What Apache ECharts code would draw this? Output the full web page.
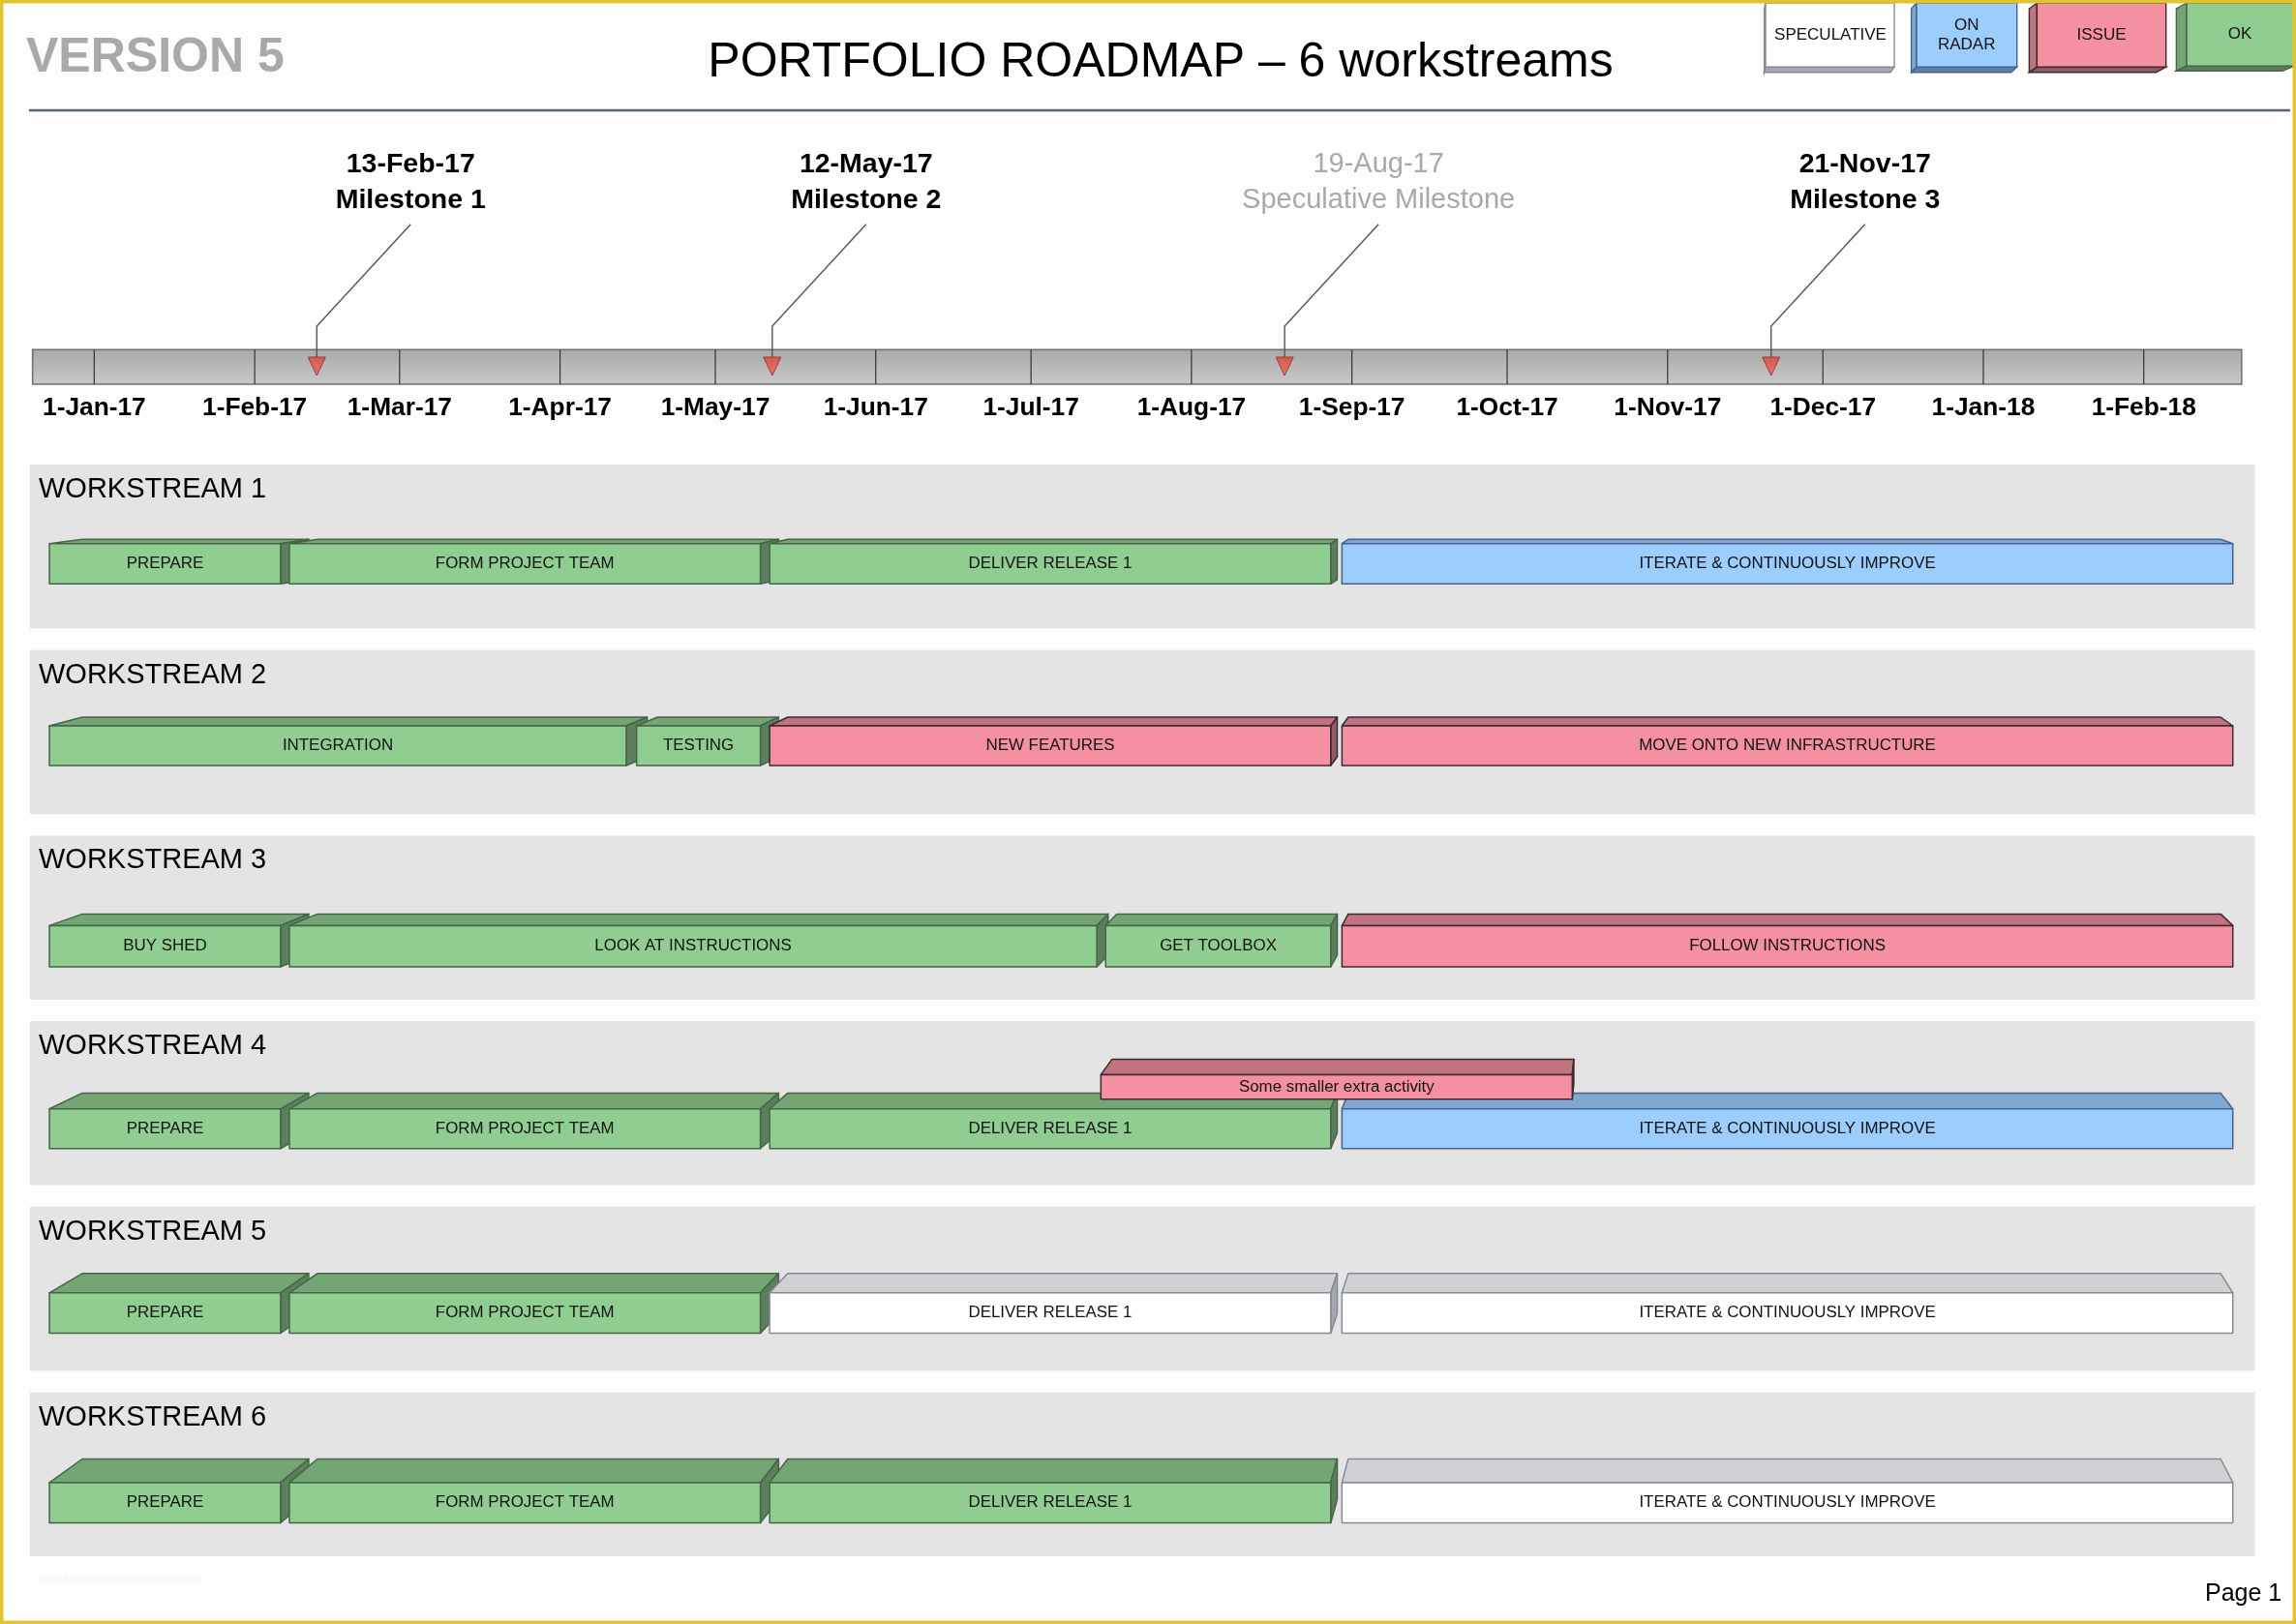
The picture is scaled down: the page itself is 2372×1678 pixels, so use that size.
<!DOCTYPE html>
<html>
<head>
<meta charset="utf-8">
<style>
  html, body { margin: 0; padding: 0; background: #fdfdfd; }
  #main { width: 2372px; height: 1678px; }
</style>
<script src="https://cdn.jsdelivr.net/npm/echarts@6/dist/echarts.min.js"></script>
</head>
<body>
<div id="main"></div>
<script>
var workstreams = ['WORKSTREAM 1', 'WORKSTREAM 2', 'WORKSTREAM 3', 'WORKSTREAM 4', 'WORKSTREAM 5', 'WORKSTREAM 6'];

var monthDates = ['2017-01-01', '2017-02-01', '2017-03-01', '2017-04-01', '2017-05-01', '2017-06-01', '2017-07-01',
  '2017-08-01', '2017-09-01', '2017-10-01', '2017-11-01', '2017-12-01', '2018-01-01', '2018-02-01'];
var monthLabels = ['1-Jan-17', '1-Feb-17', '1-Mar-17', '1-Apr-17', '1-May-17', '1-Jun-17', '1-Jul-17',
  '1-Aug-17', '1-Sep-17', '1-Oct-17', '1-Nov-17', '1-Dec-17', '1-Jan-18', '1-Feb-18'];

var milestoneDates = ['2017-02-13', '2017-05-12', '2017-08-19', '2017-11-21'];
var milestoneDateLabels = ['13-Feb-17', '12-May-17', '19-Aug-17', '21-Nov-17'];
var milestoneNames = ['Milestone 1', 'Milestone 2', 'Speculative Milestone', 'Milestone 3'];
var milestoneSpeculative = [false, false, true, false];

// shared bar dates
var D_START = '2016-12-23 08:00', D_PREP_END = '2017-02-06 00:00', D_FORM = '2017-02-07 17:00',
  D_FORM_END = '2017-05-09 17:00', D_REL = '2017-05-11 12:00', D_REL_END = '2017-08-27 22:00',
  D_ITER = '2017-08-30 02:00', D_ITER_END = '2018-02-18 05:00';

var barRows = [
  0, 0, 0, 0,
  1, 1, 1, 1,
  2, 2, 2, 2,
  3, 3, 3, 3,
  4, 4, 4, 4,
  5, 5, 5, 5,
  3
];
var barStarts = [
  D_START, D_FORM, D_REL, D_ITER,
  D_START, '2017-04-15 19:00', D_REL, D_ITER,
  D_START, D_FORM, '2017-07-15 10:00', D_ITER,
  D_START, D_FORM, D_REL, D_ITER,
  D_START, D_FORM, D_REL, D_ITER,
  D_START, D_FORM, D_REL, D_ITER,
  '2017-07-14 12:00'
];
var barEnds = [
  D_PREP_END, D_FORM_END, D_REL_END, D_ITER_END,
  '2017-04-13 19:00', D_FORM_END, D_REL_END, D_ITER_END,
  D_PREP_END, '2017-07-13 17:00', D_REL_END, D_ITER_END,
  D_PREP_END, D_FORM_END, D_REL_END, D_ITER_END,
  D_PREP_END, D_FORM_END, D_REL_END, D_ITER_END,
  D_PREP_END, D_FORM_END, D_REL_END, D_ITER_END,
  '2017-10-13 14:00'
];
var barLabels = [
  'PREPARE', 'FORM PROJECT TEAM', 'DELIVER RELEASE 1', 'ITERATE & CONTINUOUSLY IMPROVE',
  'INTEGRATION', 'TESTING', 'NEW FEATURES', 'MOVE ONTO NEW INFRASTRUCTURE',
  'BUY SHED', 'LOOK AT INSTRUCTIONS', 'GET TOOLBOX', 'FOLLOW INSTRUCTIONS',
  'PREPARE', 'FORM PROJECT TEAM', 'DELIVER RELEASE 1', 'ITERATE & CONTINUOUSLY IMPROVE',
  'PREPARE', 'FORM PROJECT TEAM', 'DELIVER RELEASE 1', 'ITERATE & CONTINUOUSLY IMPROVE',
  'PREPARE', 'FORM PROJECT TEAM', 'DELIVER RELEASE 1', 'ITERATE & CONTINUOUSLY IMPROVE',
  'Some smaller extra activity'
];
var barStatus = [
  'ok', 'ok', 'ok', 'radar',
  'ok', 'ok', 'issue', 'issue',
  'ok', 'ok', 'ok', 'issue',
  'ok', 'ok', 'ok', 'radar',
  'ok', 'ok', 'spec', 'spec',
  'ok', 'ok', 'ok', 'spec',
  'issue'
];

var legendLabels = ['SPECULATIVE', 'ON\nRADAR', 'ISSUE', 'OK'];
var legendStatus = ['spec', 'radar', 'issue', 'ok'];

// ---- styles and layout, px
var FONT = '"Liberation Sans", Arial, sans-serif';
var colors = {
  ok: { front: '#8fce90', top: '#74a674', side: '#5b7f5c', line: '#47644a' },
  radar: { front: '#9bcefc', top: '#7fa8d2', side: '#5f80a6', line: '#47618a' },
  issue: { front: '#f590a1', top: '#c27380', side: '#8e5c66', line: '#3c2a30' },
  spec: { front: '#ffffff', top: '#d1d1d3', side: '#a4a7ad', line: '#868a96' }
};
// offset from panel top to the front face of the bars, and height of the top face
var rowBars = [
  { top: 81.7, bottom: 123.3, depth: 4.4 },
  { top: 78.3, bottom: 119.3, depth: 9 },
  { top: 93, bottom: 135.6, depth: 12 },
  { top: 90.7, bottom: 131.7, depth: 16.4 },
  { top: 89, bottom: 130.6, depth: 20 },
  { top: 93.4, bottom: 135, depth: 24.4 }
];
var extraBar = { top: 55.3, bottom: 80.7, depth: 16 };
var ROW_PITCH = 191.7, PANEL_H = 169.5;
var VANISH_X = 1700, VANISH_K = 0.0206;

var X_MIN = '2016-12-13 19:00', X_MAX = '2018-03-02 10:00';
var BAND_START = '2016-12-20 02:00', BAND_END = '2018-02-19 22:00';
var PANEL_START = '2016-12-19 14:00', PANEL_END = '2018-02-22 12:00';

function ts(s) { return +new Date(s.replace(' ', 'T')); }

var myChart = echarts.init(document.getElementById('main'));

function renderPanel(params, api) {
  var left = api.coord([api.value(0), api.value(2)]);
  var right = api.coord([api.value(1), api.value(2)]);
  var top = left[1] - api.size([0, 1])[1] / 2;
  return {
    type: 'group',
    children: [
      { type: 'rect', shape: { x: left[0], y: top, width: right[0] - left[0], height: PANEL_H }, style: { fill: '#e4e4e4' } },
      { type: 'text', style: { x: left[0] + 9, y: top + 26, text: workstreams[params.dataIndex], font: '29px ' + FONT, fill: '#000', verticalAlign: 'middle' } }
    ]
  };
}

function renderBar(params, api) {
  var i = params.dataIndex;
  var row = api.value(2);
  var x0 = api.coord([api.value(0), row])[0];
  var p1 = api.coord([api.value(1), row]);
  var x1 = p1[0];
  var panelTop = p1[1] - api.size([0, 1])[1] / 2;
  var small = i === barRows.length - 1;
  var g = small ? extraBar : rowBars[row];
  var c = colors[barStatus[i]];
  var top = panelTop + g.top, bottom = panelTop + g.bottom, d = g.depth;
  var dx0 = (VANISH_X - x0) * VANISH_K, dx1 = (VANISH_X - x1) * VANISH_K;
  var stroke = { stroke: c.line, lineWidth: 1.5, lineJoin: 'round' };
  var children = [
    { type: 'polygon', shape: { points: [[x0, top], [x1, top], [x1 + dx1, top - d], [x0 + dx0, top - d]] }, style: Object.assign({ fill: c.top }, stroke) }
  ];
  // the side face is only visible left of the vanishing point
  if (dx1 > 0) {
    children.push({ type: 'polygon', shape: { points: [[x1, top], [x1 + dx1, top - d], [x1 + dx1, bottom - d], [x1, bottom]] }, style: Object.assign({ fill: c.side }, stroke) });
  }
  children.push({ type: 'rect', shape: { x: x0, y: top, width: x1 - x0, height: bottom - top }, style: Object.assign({ fill: c.front }, stroke) });
  children.push({ type: 'text', style: { x: (x0 + x1) / 2, y: (top + bottom) / 2, text: barLabels[i], font: '16.9px ' + FONT, fill: '#111', align: 'center', verticalAlign: 'middle' } });
  return { type: 'group', children: children };
}

function renderBand(params, api) {
  var a = api.coord([api.value(0), 0]);
  var b = api.coord([api.value(1), 0]);
  var h = api.size([0, 1])[1];
  return {
    type: 'rect',
    shape: { x: a[0], y: a[1] - h / 2, width: b[0] - a[0], height: h },
    style: {
      fill: new echarts.graphic.LinearGradient(0, 0, 0, 1, [{ offset: 0, color: '#a9a9a9' }, { offset: 1, color: '#c9c9c9' }]),
      stroke: '#6e6e6e', lineWidth: 1.5
    }
  };
}

function renderMonth(params, api) {
  var a = api.coord([api.value(0), 0]);
  var h = api.size([0, 1])[1];
  return {
    type: 'group',
    children: [
      { type: 'line', shape: { x1: a[0], y1: a[1] - h / 2, x2: a[0], y2: a[1] + h / 2 }, style: { stroke: '#333', lineWidth: 1.2 } },
      { type: 'text', style: { x: a[0], y: a[1] + h / 2 + 25, text: monthLabels[params.dataIndex], font: 'bold 26.3px ' + FONT, fill: '#000', align: 'center', verticalAlign: 'middle' } }
    ]
  };
}

function renderMilestone(params, api) {
  var i = params.dataIndex;
  var a = api.coord([api.value(0), 0]);
  var x = a[0], top = a[1] - api.size([0, 1])[1] / 2;
  var spec = milestoneSpeculative[i];
  return {
    type: 'group',
    children: [
      { type: 'polyline', shape: { points: [[x + 97, top - 129.6], [x, top - 24.3], [x, top + 7.7]] }, style: { stroke: '#555', lineWidth: 1.4, fill: 'none' } },
      {
        type: 'polygon', shape: { points: [[x - 9, top + 7.7], [x + 9, top + 7.7], [x, top + 26.7]] },
        style: {
          fill: new echarts.graphic.LinearGradient(0, 0, 0, 1, [{ offset: 0, color: '#d9574c' }, { offset: 1, color: '#e9796d' }]),
          stroke: '#8c3f38', lineWidth: 1
        }
      },
      {
        type: 'text',
        style: {
          x: x + 97, y: top - 172.7,
          text: milestoneDateLabels[i] + '\n' + milestoneNames[i],
          font: spec ? '29px ' + FONT : 'bold 28.5px ' + FONT, lineHeight: 36.7,
          fill: spec ? '#a9a9a9' : '#000', align: 'center', verticalAlign: 'middle'
        }
      }
    ]
  };
}

// legend boxes at the top right: front face, left face, bottom face
var legendBoxes = [
  { x0: 1824, x1: 1957, side: 1.4, bottom: 69.3, foot: 5.4, cut: 4, text: [1891, 36.5] },
  { x0: 1980, x1: 2083.7, side: 5.4, bottom: 69.3, foot: 5.4, cut: 6, text: [2031.7, 36.5] },
  { x0: 2104.4, x1: 2237.7, side: 8, bottom: 69.3, foot: 5.4, cut: 10.3, text: [2171, 36.5] },
  { x0: 2259, x1: 2370, side: 10.6, bottom: 68.3, foot: 5, cut: 12, text: [2314, 35] }
];

function legendGraphics() {
  var out = [];
  legendBoxes.forEach(function (b, i) {
    var c = colors[legendStatus[i]];
    var st = { stroke: c.line, lineWidth: 1.4 };
    var xl = b.x0 - b.side;
    out.push({ type: 'polygon', shape: { points: [[b.x0, 3], [xl, 9], [xl, b.bottom + b.foot], [b.x0, b.bottom]] }, style: Object.assign({ fill: c.top }, st) });
    out.push({ type: 'polygon', shape: { points: [[b.x0, b.bottom], [b.x1, b.bottom], [b.x1 - b.cut, b.bottom + b.foot], [xl, b.bottom + b.foot]] }, style: Object.assign({ fill: c.side }, st) });
    out.push({ type: 'rect', shape: { x: b.x0, y: 3, width: b.x1 - b.x0, height: b.bottom - 3 }, style: Object.assign({ fill: c.front }, st) });
    out.push({ type: 'text', style: { x: b.text[0], y: b.text[1], text: legendLabels[i], font: '17px ' + FONT, lineHeight: 20, fill: '#111', align: 'center', verticalAlign: 'middle' } });
  });
  return out;
}

var sharedX = { type: 'time', min: ts(X_MIN), max: ts(X_MAX), splitLine: { show: false }, axisLine: { show: false }, axisTick: { show: false }, axisLabel: { show: false } };

var option = {
  backgroundColor: '#fdfdfd',
  animation: false,
  title: [
    { text: 'VERSION 5', left: 22, top: 30, textStyle: { fontFamily: FONT, fontSize: 50, fontWeight: 'bold', color: '#a9a9a9' } },
    { text: 'PORTFOLIO ROADMAP \u2013 6 workstreams', left: 1194, top: 35, textAlign: 'center', textStyle: { fontFamily: FONT, fontSize: 50, fontWeight: 'normal', color: '#000' } }
  ],
  graphic: {
    elements: [
      { type: 'rect', silent: true, z: 100, shape: { x: 0, y: 0, width: 2372, height: 1678 }, style: { fill: 'none', stroke: '#e0c32d', lineWidth: 7 } },
      { type: 'line', shape: { x1: 30, y1: 114, x2: 2366, y2: 114 }, style: { stroke: '#5a6478', lineWidth: 2.4 } },
      { type: 'text', style: { x: 2278, y: 1647, text: 'Page 1', font: '25px ' + FONT, fill: '#000', verticalAlign: 'middle' } },
      { type: 'text', style: { x: 40, y: 1633, text: 'www.heritagechristiancollege.com', font: '11px ' + FONT, fill: '#f3f3f3', verticalAlign: 'middle' } }
    ].concat(legendGraphics())
  },
  grid: [
    { left: 0, right: 0, top: 361.3, height: 35.7 },
    { left: 0, right: 0, top: 480, height: ROW_PITCH * workstreams.length }
  ],
  xAxis: [
    Object.assign({}, sharedX, { gridIndex: 0 }),
    Object.assign({}, sharedX, { gridIndex: 1 })
  ],
  yAxis: [
    { type: 'category', gridIndex: 0, data: ['timeline'], show: false },
    { type: 'category', gridIndex: 1, data: workstreams, inverse: true, show: false }
  ],
  series: [
    {
      name: 'timeline', type: 'custom', xAxisIndex: 0, yAxisIndex: 0, z: 2,
      encode: { x: [0, 1], y: 2 },
      data: [[ts(BAND_START), ts(BAND_END), 0]],
      renderItem: renderBand
    },
    {
      name: 'months', type: 'custom', xAxisIndex: 0, yAxisIndex: 0, z: 3,
      encode: { x: 0, y: 1 },
      data: monthDates.map(function (d) { return [ts(d), 0]; }),
      renderItem: renderMonth
    },
    {
      name: 'milestones', type: 'custom', xAxisIndex: 0, yAxisIndex: 0, z: 4,
      encode: { x: 0, y: 1 },
      data: milestoneDates.map(function (d) { return [ts(d), 0]; }),
      renderItem: renderMilestone
    },
    {
      name: 'panels', type: 'custom', xAxisIndex: 1, yAxisIndex: 1, z: 2,
      encode: { x: [0, 1], y: 2 },
      data: workstreams.map(function (w, i) { return [ts(PANEL_START), ts(PANEL_END), i]; }),
      renderItem: renderPanel
    },
    {
      name: 'activities', type: 'custom', xAxisIndex: 1, yAxisIndex: 1, z: 3,
      encode: { x: [0, 1], y: 2 },
      data: barRows.map(function (r, i) { return [ts(barStarts[i]), ts(barEnds[i]), r]; }),
      renderItem: renderBar
    }
  ]
};

myChart.setOption(option);
</script>
</body>
</html>
